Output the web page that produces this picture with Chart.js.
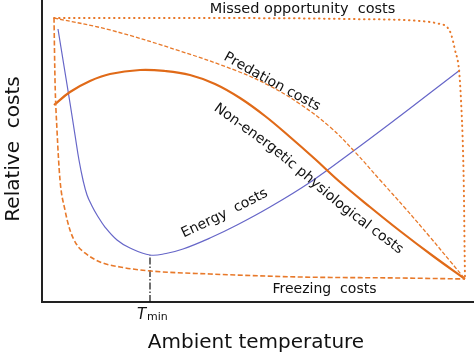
<!DOCTYPE html>
<html>
<head>
<meta charset="utf-8">
<script src="https://cdn.jsdelivr.net/npm/chart.js@4.4.1/dist/chart.umd.min.js"></script>
<style>
  html, body { margin: 0; padding: 0; background: #ffffff; }
  #wrap { width: 474px; height: 363px; }
</style>
</head>
<body>
<div id="wrap"><canvas id="c" width="474" height="363"></canvas></div>
<script>
// ---- Data (relative units, 0-100 on both axes) ----
const missedX = [2.78, 25.0, 48.15, 71.3, 87.5, 92.1, 93.75, 94.68, 95.6, 96.53, 96.99, 97.45, 97.69, 97.82, 97.92];
const missedY = [94.04, 94.0, 94.0, 93.7, 93.05, 92.05, 91.06, 88.74, 83.44, 76.82, 66.89, 50.33, 33.77, 17.22, 7.62];

const freezingX = [2.78, 3.01, 3.47, 4.17, 5.32, 6.48, 8.10, 9.95, 13.43, 18.06, 25.23, 38.89, 59.72, 82.87, 97.92];
const freezingY = [94.04, 73.51, 56.95, 40.40, 30.46, 23.84, 18.87, 16.23, 13.25, 11.59, 10.26, 9.27, 8.28, 7.95, 7.62];

const predationX = [2.78, 15.74, 31.94, 45.14, 52.78, 59.72, 66.67, 72.45, 78.24, 84.03, 89.81, 94.44, 97.92];
const predationY = [94.04, 90.07, 83.11, 76.49, 71.52, 65.56, 57.95, 49.67, 40.40, 31.13, 21.52, 13.58, 7.62];

const physioX = [2.78, 6.48, 11.11, 15.74, 22.69, 28.47, 34.26, 40.05, 45.83, 51.62, 57.41, 63.19, 68.98, 75.93, 82.87, 90.51, 97.92];
const physioY = [65.23, 69.54, 73.18, 75.50, 76.82, 76.49, 75.17, 72.19, 67.55, 61.59, 54.64, 47.35, 39.74, 31.46, 23.51, 15.23, 7.62];

const energyX = [3.70, 5.09, 6.48, 7.64, 8.56, 9.49, 10.42, 11.57, 12.73, 14.58, 17.36, 20.37, 25.0, 28.70, 32.64, 38.89, 45.14, 52.78, 61.81, 71.76, 82.87, 89.81, 96.76];
const energyY = [90.40, 78.15, 65.89, 55.30, 47.02, 40.40, 35.43, 31.79, 28.81, 24.83, 20.53, 17.88, 15.56, 16.06, 17.55, 21.19, 25.50, 31.46, 39.40, 49.67, 61.59, 69.21, 76.82];

const tminX = [25.0, 25.0];
const tminY = [0, 15.56];

const toPts = (xs, ys) => xs.map((v, i) => ({ x: v, y: ys[i] }));

const ORANGE = '#E8792A';
const FONT = '"DejaVu Sans", Verdana, sans-serif';

// label paths in data units
const labels = [
  { text: 'Predation costs', size: 14, path: [[43.06, 80.79], [53.47, 72.52], [63.43, 64.90]] },
  { text: 'Non-energetic physiological costs', size: 14, path: [[40.51, 64.24], [52.78, 51.66], [60.88, 42.05], [68.98, 32.12], [82.87, 17.22]] },
  { text: 'Energy  costs', size: 14, path: [[33.56, 23.18], [42.82, 29.47], [50.93, 35.43]] },
];

function drawAlong(ctx, text, pts, size) {
  ctx.save();
  ctx.font = size + 'px ' + FONT;
  ctx.fillStyle = '#111';
  ctx.textAlign = 'center';
  ctx.textBaseline = 'middle';
  const seg = [];
  let total = 0;
  for (let i = 0; i < pts.length - 1; i++) {
    const dx = pts[i + 1][0] - pts[i][0], dy = pts[i + 1][1] - pts[i][1];
    const l = Math.hypot(dx, dy);
    seg.push({ x: pts[i][0], y: pts[i][1], dx, dy, l, start: total });
    total += l;
  }
  const widths = [...text].map(ch => ctx.measureText(ch).width);
  const tw = widths.reduce((a, b) => a + b, 0);
  let s = (total - tw) / 2;
  [...text].forEach((ch, i) => {
    const m = s + widths[i] / 2;
    let sg = seg[seg.length - 1];
    for (const g of seg) { if (m <= g.start + g.l) { sg = g; break; } }
    const t = (m - sg.start) / sg.l;
    const px = sg.x + sg.dx * t, py = sg.y + sg.dy * t;
    ctx.save();
    ctx.translate(px, py);
    ctx.rotate(Math.atan2(sg.dy, sg.dx));
    ctx.fillText(ch, 0, 0);
    ctx.restore();
    s += widths[i];
  });
  ctx.restore();
}

const textPlugin = {
  id: 'texts',
  afterDatasetsDraw(chart) {
    const { ctx, chartArea, scales: { x, y } } = chart;
    labels.forEach(L => {
      const pts = L.path.map(p => [x.getPixelForValue(p[0]), y.getPixelForValue(p[1])]);
      drawAlong(ctx, L.text, pts, L.size);
    });
    ctx.save();
    ctx.fillStyle = '#111';
    ctx.textBaseline = 'alphabetic';
    ctx.textAlign = 'center';
    ctx.font = '14.5px ' + FONT;
    ctx.fillText('Missed opportunity  costs', x.getPixelForValue(60.3), y.getPixelForValue(95.7));
    ctx.font = '14px ' + FONT;
    ctx.fillText('Freezing  costs', x.getPixelForValue(65.39), y.getPixelForValue(2.98));
    // T_min label
    const tx = x.getPixelForValue(tminX[0]);
    ctx.textAlign = 'left';
    ctx.font = 'italic 15px ' + FONT;
    ctx.fillText('T', tx - 13, chartArea.bottom + 17);
    ctx.font = '11px ' + FONT;
    ctx.fillText('min', tx - 3, chartArea.bottom + 18);
    // axis titles
    ctx.textAlign = 'center';
    ctx.font = '20px ' + FONT;
    ctx.fillText('Ambient temperature', (chartArea.left + chartArea.right) / 2 - 2, chartArea.bottom + 46);
    ctx.save();
    ctx.translate(19, 149);
    ctx.rotate(-Math.PI / 2);
    ctx.fillText('Relative  costs', 0, 0);
    ctx.restore();
    ctx.restore();
  }
};

const smooth = { cubicInterpolationMode: 'default', tension: 0.4 };
const mono = { cubicInterpolationMode: 'monotone' };

new Chart(document.getElementById('c'), {
  type: 'scatter',
  data: {
    datasets: [
      Object.assign({ data: toPts(missedX, missedY), borderColor: ORANGE, borderWidth: 2, borderDash: [0.5, 4.5], borderCapStyle: 'round' }, mono),
      Object.assign({ data: toPts(freezingX, freezingY), borderColor: ORANGE, borderWidth: 1.6, borderDash: [5, 2.5] }, mono),
      Object.assign({ data: toPts(predationX, predationY), borderColor: ORANGE, borderWidth: 1.3, borderDash: [4, 2] }, smooth),
      Object.assign({ data: toPts(physioX, physioY), borderColor: '#E06A18', borderWidth: 2.2 }, smooth),
      Object.assign({ data: toPts(energyX, energyY), borderColor: '#6666C8', borderWidth: 1.2 }, smooth),
      { data: toPts(tminX, tminY), borderColor: '#111', borderWidth: 1.2, borderDash: [7, 2, 1.5, 2], tension: 0 },
    ].map(d => Object.assign({ showLine: true, pointRadius: 0, fill: false, clip: false }, d))
  },
  options: {
    responsive: false,
    animation: false,
    devicePixelRatio: 1,
    layout: { padding: { left: 42, right: 0, top: 0, bottom: 61 } },
    plugins: { legend: { display: false }, tooltip: { enabled: false } },
    scales: {
      x: {
        type: 'linear', min: 0, max: 100,
        grid: { display: false, drawTicks: false },
        ticks: { display: false },
        border: { display: true, color: '#222', width: 2 }
      },
      y: {
        type: 'linear', min: 0, max: 100,
        grid: { display: false, drawTicks: false },
        ticks: { display: false },
        border: { display: true, color: '#222', width: 2 }
      }
    }
  },
  plugins: [textPlugin]
});
</script>
</body>
</html>
